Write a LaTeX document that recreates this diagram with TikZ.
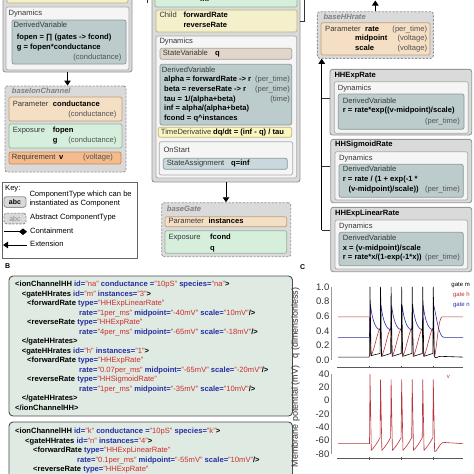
\documentclass[tikz,border=0pt]{standalone}
\usepackage{fontspec}
\setmainfont{Liberation Sans}
\usetikzlibrary{positioning,fit,arrows.meta}

\definecolor{compgray}{RGB}{218,218,218}
\definecolor{compedge}{RGB}{150,150,150}
\definecolor{dynfill}{RGB}{245,245,245}
\definecolor{dynedge}{RGB}{170,170,170}
\definecolor{dvfill}{RGB}{188,203,204}
\definecolor{dvedge}{RGB}{140,152,155}
\definecolor{parfill}{RGB}{244,222,196}
\definecolor{paredge}{RGB}{190,160,125}
\definecolor{expfill}{RGB}{214,238,220}
\definecolor{expedge}{RGB}{150,180,155}
\definecolor{reqfill}{RGB}{244,188,142}
\definecolor{reqedge}{RGB}{200,135,85}
\definecolor{chfill}{RGB}{244,240,204}
\definecolor{chedge}{RGB}{190,180,125}
\definecolor{tdfill}{RGB}{250,246,190}
\definecolor{svfill}{RGB}{224,214,204}
\definecolor{svedge}{RGB}{170,160,150}
\definecolor{safill}{RGB}{200,216,220}
\definecolor{xmlfill}{RGB}{222,234,226}
\definecolor{xmlblue}{RGB}{40,45,160}
\definecolor{xmlred}{RGB}{205,45,45}
\definecolor{hred}{RGB}{185,55,60}
\definecolor{nblue}{RGB}{45,45,170}

\newcommand{\xtag}[1]{\textbf{#1}}
\newcommand{\xatt}[1]{\textbf{\color{xmlblue}#1}}
\newcommand{\xval}[1]{{\color{xmlred}#1}}

\begin{document}
\begin{tikzpicture}[x=1pt,y=-1pt,
    comp/.style={draw=compedge, fill=compgray, rounded corners=2.5pt, line width=0.9pt, inner sep=0pt},
    abst/.style={comp, dash pattern=on 2.2pt off 1.4pt},
    dyn/.style={draw=dynedge, fill=dynfill, rounded corners=2pt, line width=0.7pt, inner sep=0pt},
    dvar/.style={draw=dvedge, fill=dvfill, rounded corners=2pt, line width=0.7pt, inner sep=0pt},
    param/.style={dvar, draw=paredge, fill=parfill},
    expo/.style={dvar, draw=expedge, fill=expfill},
    req/.style={dvar, draw=reqedge, fill=reqfill},
    chld/.style={dvar, draw=chedge, fill=chfill},
    tder/.style={dvar, draw=chedge, fill=tdfill},
    svar/.style={dvar, draw=svedge, fill=svfill},
    sasg/.style={dvar, fill=safill},
    xmlbox/.style={draw=black!70, fill=xmlfill, rounded corners=4pt, line width=0.9pt, inner sep=0pt},
    lbl/.style={anchor=west, inner sep=0pt, text height=5.4pt, text depth=1.6pt, font=\fontsize{7.6}{9}\selectfont, text=black!78},
    val/.style={lbl, font=\fontsize{7.6}{9}\selectfont\bfseries, text=black},
    unit/.style={lbl, anchor=east, text=black!68},
    ttl/.style={lbl, font=\fontsize{7.6}{9}\selectfont\bfseries\itshape, text=black!50},
    xml/.style={lbl, text=black},
    panel/.style={lbl, font=\fontsize{7}{8}\selectfont\bfseries, text=black},
    tick/.style={anchor=east, inner sep=0pt, font=\fontsize{9.5}{10}\selectfont, text=black!80},
    leg/.style={anchor=east, inner sep=0pt, font=\fontsize{6}{7}\selectfont},
    ext/.style={-{Triangle[width=6.5pt,length=5pt]}, line width=0.9pt},
    wire/.style={line width=0.9pt, black!80},
    axisline/.style={black!65, line width=0.6pt},
    trace/.style={line width=0.6pt, line join=round},
  ]
  \clip (0,0) rectangle (474,474);
  \fill[white] (0,0) rectangle (474,474);

  % ---------- A: ion channel (left column) ----------
  \node[comp, fit={(3,-10) (132,72)}] (ionch) {};
  \node[chld, fit={(7,-10) (128,3)}] (ionchtop) {};
  \node[dyn, fit={(6,7) (129,70)}] (ionchdyn) {};
  \node[lbl] (ionchdynlbl) at (8.5,14) {Dynamics};
  \node[dvar, fit={(12,20) (126,64)}] (ionchdv) {};
  \node[lbl] (ionchdvlbl) at (13.5,25.7) {DerivedVariable};
  \node[val] (fopen) at (16.7,37.3) {fopen = ∏ (gates -> fcond)};
  \node[val] (gdef) at (16.7,47.7) {g = fopen*conductance};
  \node[unit] (gunit) at (121.7,57.3) {(conductance)};

  % abstract base ion channel
  \node[abst, fit={(5,86) (126,172)}] (baseion) {};
  \node[ttl] (baseionlbl) at (11.7,91.7) {baseIonChannel};
  \node[param, fit={(9,97) (122,121)}] (baseionpar) {};
  \node[lbl] (condpar) at (12.7,104.3) {Parameter};
  \node[val] (condname) at (52.7,104.3) {conductance};
  \node[unit] (condunit) at (116.7,114.3) {(conductance)};
  \node[expo, fit={(9,124) (122,148)}] (baseionexp) {};
  \node[lbl] (expolbl) at (12.7,131) {Exposure};
  \node[val] (fopenexp) at (52.7,131) {fopen};
  \node[val] (gexp) at (52.7,141) {g};
  \node[unit] (gexpunit) at (116.7,141) {(conductance)};
  \node[req, fit={(9,152) (121,164)}] (baseionreq) {};
  \node[lbl] (reqlbl) at (11.7,157.7) {Requirement};
  \node[val] (vreq) at (59,157.7) {v};
  \node[unit] (vrequnit) at (113,157.7) {(voltage)};
  \draw[ext] (ionch.south) -- (ionch.south |- baseion.north);

  % key
  \node[draw=black!60, line width=0.7pt, fit={(2,182) (137,258)}, inner sep=0pt] (key) {};
  \node[lbl, text=black] (keylbl) at (5,189) {Key:};
  \node[comp, minimum width=22pt, minimum height=10.6pt, font=\fontsize{7}{8}\selectfont\bfseries] (keycomp) at (15,202) {abc};
  \node[lbl, text=black] (keycomp1) at (29.3,195) {ComponentType which can be};
  \node[lbl, text=black] (keycomp2) at (29.3,204) {instantiated as Component};
  \node[abst, minimum width=22pt, minimum height=10.6pt, font=\fontsize{7}{8}\selectfont, text=black!45] (keyabst) at (15,218.5) {abc};
  \node[lbl, text=black] (keyabstlbl) at (30,217.7) {Abstract ComponentType};
  \coordinate (conta) at (4,231.7);
  \coordinate (contb) at (27,231.7);
  \draw[line width=0.9pt, -{Diamond[width=6.5pt,length=8pt]}] (conta) -- (contb);
  \node[lbl, text=black] (contlbl) at (30,231.7) {Containment};
  \coordinate (exta) at (27,245);
  \coordinate (extb) at (3,245);
  \draw[ext] (exta) -- (extb);
  \node[lbl, text=black] (extlbl) at (30,245) {Extension};

  % ---------- A: gate (middle column) ----------
  \node[comp, fit={(152,-10) (300,182)}] (gate) {};
  \node[expo, fit={(155,-10) (297,7)}] (gatetop) {};
  \node[val] (gateinf) at (200,-0.5) {inf};
  \node[chld, fit={(156,10) (297,32)}] (gatechild) {};
  \node[lbl] (childlbl) at (159.3,15.7) {Child};
  \node[val] (fwd) at (183.3,15.7) {forwardRate};
  \node[val] (rev) at (183.3,25.7) {reverseRate};
  \node[dyn, fit={(156,36) (296.7,178)}] (gatedyn) {};
  \node[lbl] (gatedynlbl) at (159.3,41.7) {Dynamics};
  \node[svar, fit={(160,48.3) (291.7,59.3)}] (gatesv) {};
  \node[lbl] (svlbl) at (162.7,53.8) {StateVariable};
  \node[val] (svq) at (215,53.8) {q};
  \node[dvar, fit={(160,64.3) (291.7,125)}] (gatedv) {};
  \node[lbl] (gatedvlbl) at (161.7,70.7) {DerivedVariable};
  \node[val] (alpha) at (164,80) {alpha = forwardRate -> r};
  \node[unit] (alphaunit) at (290,80) {(per\_time)};
  \node[val] (beta) at (164,90) {beta = reverseRate -> r};
  \node[unit] (betaunit) at (290,90) {(per\_time)};
  \node[val] (tau) at (164,99.3) {tau = 1/(alpha+beta)};
  \node[unit] (tauunit) at (290,99.3) {(time)};
  \node[val] (inf) at (164,109) {inf = alpha/(alpha+beta)};
  \node[val] (fcond) at (164,118.3) {fcond = q\textasciicircum instances};
  \node[tder, fit={(158.3,127.3) (291.7,137.3)}] (gatetd) {};
  \node[lbl] (tdlbl) at (160.7,132.3) {TimeDerivative};
  \node[val] (tdeq) at (213,132.3) {dq/dt = (inf - q) / tau};
  \node[dyn, fit={(159.3,141.7) (292.7,175)}] (gateos) {};
  \node[lbl] (oslbl) at (163.3,151) {OnStart};
  \node[sasg, fit={(163.3,158.3) (287.3,169.3)}] (gatesa) {};
  \node[lbl] (salbl) at (166.7,163.8) {StateAssignment};
  \node[val] (saeq) at (231,163.8) {q=inf};

  % abstract base gate
  \node[abst, fit={(161.7,202.7) (290.7,256.7)}] (basegate) {};
  \node[ttl] (basegatelbl) at (166.7,209.3) {baseGate};
  \node[param, fit={(165,216.7) (286.7,226.7)}] (basegatepar) {};
  \node[lbl] (instpar) at (168.3,221.7) {Parameter};
  \node[val] (instname) at (208.3,221.7) {instances};
  \node[expo, fit={(165,230.7) (286.7,253.3)}] (basegateexp) {};
  \node[lbl] (gexplbl) at (168.3,237.3) {Exposure};
  \node[val] (fcondexp) at (210,237.3) {fcond};
  \node[val] (qexp) at (210,248.3) {q};
  \draw[ext] (gate.south) -- (gate.south |- basegate.north);

  % containment links leaving the frame
  \coordinate (ionlinka) at (147,-4);
  \coordinate (ionlinkb) at (147,3);
  \draw[wire] (ionlinka) -- (ionlinkb);
  \coordinate (childup) at (304,-4);
  \draw[wire] (gate.east |- gatechild.east) -| (childup);

  % ---------- A: rates (right column) ----------
  \node[abst, fit={(317.3,11.7) (433.3,58.3)}] (hhrate) {};
  \node[ttl] (hhratelbl) at (323.3,17.3) {baseHHrate};
  \node[param, fit={(321,22.7) (430,55)}] (hhratepar) {};
  \node[lbl] (ratepar) at (325,29.3) {Parameter};
  \node[val] (ratename) at (365,29.3) {rate};
  \node[unit] (rateunit) at (427.3,29.3) {(per\_time)};
  \node[val] (midname) at (355,39) {midpoint};
  \node[unit] (midunit) at (427.3,39) {(voltage)};
  \node[val] (scalename) at (355,48.3) {scale};
  \node[unit] (scaleunit) at (427.3,48.3) {(voltage)};
  \coordinate (hhrateup) at (375.3,0.5);
  \draw[ext] (hhrate.north) -- (hhrateup);

  \node[comp, fit={(330,69.3) (471.7,135)}] (hhexp) {};
  \node[val] (hhexplbl) at (334.3,76) {HHExpRate};
  \node[dyn, fit={(334.3,81.7) (468.3,133.3)}] (hhexpdyn) {};
  \node[lbl] (hhexpdynlbl) at (337.7,88.3) {Dynamics};
  \node[dvar, fit={(338.3,94) (464,129.3)}] (hhexpdv) {};
  \node[lbl] (hhexpdvlbl) at (342.7,101.7) {DerivedVariable};
  \node[val] (hhexpr) at (342.7,111) {r = rate*exp((v-midpoint)/scale)};
  \node[unit] (hhexpunit) at (460,121.7) {(per\_time)};

  \node[comp, fit={(330.7,139.3) (471.7,202.7)}] (hhsig) {};
  \node[val] (hhsiglbl) at (335,145) {HHSigmoidRate};
  \node[dyn, fit={(335,151.7) (467.7,200)}] (hhsigdyn) {};
  \node[lbl] (hhsigdynlbl) at (339,158.3) {Dynamics};
  \node[dvar, fit={(339,164.3) (463.3,197.3)}] (hhsigdv) {};
  \node[lbl] (hhsigdvlbl) at (342.7,170) {DerivedVariable};
  \node[val] (hhsigr1) at (342.7,180) {r = rate / (1 + exp(-1 *};
  \node[val] (hhsigr2) at (348.3,190) {(v-midpoint)/scale))};
  \node[unit] (hhsigunit) at (460,190) {(per\_time)};

  \node[comp, fit={(330.7,207.3) (471.7,271.7)}] (hhlin) {};
  \node[val] (hhlinlbl) at (335,213.3) {HHExpLinearRate};
  \node[dyn, fit={(335,220) (467.7,269)}] (hhlindyn) {};
  \node[lbl] (hhlindynlbl) at (339,226.7) {Dynamics};
  \node[dvar, fit={(339,232.3) (463.3,265.7)}] (hhlindv) {};
  \node[lbl] (hhlindvlbl) at (342.7,238.3) {DerivedVariable};
  \node[val] (hhlinx) at (342.7,248.3) {x = (v-midpoint)/scale};
  \node[val] (hhlinr) at (342.7,257.7) {r = rate*x/(1-exp(-1*x))};
  \node[unit] (hhlinunit) at (460,257.7) {(per\_time)};

  % extension tree up to baseHHrate
  \coordinate (trunk) at (321.7,230);
  \coordinate (brexp) at ([yshift=4pt]hhexp.west);
  \coordinate (brsig) at ([yshift=4.5pt]hhsig.west);
  \coordinate (brlin) at ([yshift=9.5pt]hhlin.west);
  \draw[ext] (trunk) -- (trunk |- hhrate.south);
  \draw[wire] (trunk |- brexp) -- (brexp);
  \draw[wire] (trunk |- brsig) -- (brsig);
  \draw[wire] (trunk |- brlin) -- (brlin);

  % ---------- B: XML ----------
  \node[panel] (labB) at (5,267) {B};
  \node[xmlbox, fit={(9,276) (292.5,416)}] (xmlna) {};
  \node[xml] (na1) at (15,285) {\xtag{<ionChannelHH} \xatt{id=}\xval{"na"} \xatt{conductance =}\xval{"10pS"} \xatt{species=}\xval{"na"}\xtag{>}};
  \node[xml] (na2) at (21.7,294.5) {\xtag{<gateHHrates} \xatt{id=}\xval{"m"} \xatt{instances=}\xval{"3"}\xtag{>}};
  \node[xml] (na3) at (27,304) {\xtag{<forwardRate} \xatt{type=}\xval{"HHExpLinearRate"}};
  \node[xml] (na4) at (79,313.5) {\xatt{rate=}\xval{"1per\_ms"} \xatt{midpoint=}\xval{"-40mV"} \xatt{scale=}\xval{"10mV"}\xtag{/>}};
  \node[xml] (na5) at (27,323) {\xtag{<reverseRate} \xatt{type=}\xval{"HHExpRate"}};
  \node[xml] (na6) at (79,332.5) {\xatt{rate=}\xval{"4per\_ms"} \xatt{midpoint=}\xval{"-65mV"} \xatt{scale=}\xval{"-18mV"}\xtag{/>}};
  \node[xml] (na7) at (21.7,342) {\xtag{</gateHHrates>}};
  \node[xml] (na8) at (21.7,351.5) {\xtag{<gateHHrates} \xatt{id=}\xval{"h"} \xatt{instances=}\xval{"1"}\xtag{>}};
  \node[xml] (na9) at (27,361) {\xtag{<forwardRate} \xatt{type=}\xval{"HHExpRate"}};
  \node[xml] (na10) at (79,370.5) {\xatt{rate=}\xval{"0.07per\_ms"} \xatt{midpoint=}\xval{"-65mV"} \xatt{scale=}\xval{"-20mV"}\xtag{/>}};
  \node[xml] (na11) at (27,380) {\xtag{<reverseRate} \xatt{type=}\xval{"HHSigmoidRate"}};
  \node[xml] (na12) at (79,389.5) {\xatt{rate=}\xval{"1per\_ms"} \xatt{midpoint=}\xval{"-35mV"} \xatt{scale=}\xval{"10mV"}\xtag{/>}};
  \node[xml] (na13) at (21.7,399) {\xtag{</gateHHrates>}};
  \node[xml] (na14) at (15,408.5) {\xtag{</ionChannelHH>}};

  \node[xmlbox, fit={(9,422) (292.5,490)}] (xmlk) {};
  \node[xml] (k1) at (15,432) {\xtag{<ionChannelHH} \xatt{id=}\xval{"k"} \xatt{conductance =}\xval{"10pS"} \xatt{species=}\xval{"k"}\xtag{>}};
  \node[xml] (k2) at (25,441.5) {\xtag{<gateHHrates} \xatt{id=}\xval{"n"} \xatt{instances=}\xval{"4"}\xtag{>}};
  \node[xml] (k3) at (33,451) {\xtag{<forwardRate} \xatt{type=}\xval{"HHExpLinearRate"}};
  \node[xml] (k4) at (77,460.5) {\xatt{rate=}\xval{"0.1per\_ms"} \xatt{midpoint=}\xval{"-55mV"} \xatt{scale=}\xval{"10mV"}\xtag{/>}};
  \node[xml] (k5) at (33,470) {\xtag{<reverseRate} \xatt{type=}\xval{"HHExpRate"}};

  % ---------- C: simulation traces ----------
  \node[panel] (labC) at (300,268) {C};
  \node[rotate=90, inner sep=0pt, font=\fontsize{9}{10}\selectfont, text=black!80] (qaxis) at (295.5,323) {q (dimensionless)};
  \node[rotate=90, inner sep=0pt, font=\fontsize{9}{10}\selectfont, text=black!80] (vaxis) at (295.5,416.7) {Membrane potential (mV)};

  \foreach \lab [count=\i] in {0.0,0.2,0.4,0.6,0.8,1.0}
    \node[tick] (qtick\i) at ({329.5},{360-14.6*(\i-1)}) {\lab};
  \foreach \lab [count=\i] in {40,20,0,-20,-40,-60,-80}
    \node[tick] (vtick\i) at ({329.5},{374+13.33*(\i-1)}) {\lab};

  % axes
  \draw[axisline, black!40, line width=0.4pt] (331.5,287) -- (331.5,360);
  \draw[axisline, black!40, line width=0.4pt] (331.5,374) -- (331.5,454);
  \draw[axisline] (337,367) -- (463,367);
  \draw[axisline] (337,458.5) -- (463,458.5);
  \foreach \x in {369,401,433} {
    \draw[axisline] (\x,365.5) -- (\x,368);
    \draw[axisline] (\x,457) -- (\x,459.5);
  }

  \begin{scope}[shift={(0,360)}, y={(0pt,73pt)}]
    % gate h
    \draw[trace, hred] (338,0.59) -- (369.3,0.59) .. controls (370,0.5) and (370.5,0.1) .. (371.5,0.07)
      foreach \t in {380.55,391.1,401.65,412.2,422.75,433.3} {
        .. controls (\t-6,0.15) and (\t-3,0.4) .. (\t-0.2,0.44)
        .. controls (\t+0.3,0.35) and (\t+0.6,0.1) .. (\t+1.5,0.06) }
      .. controls (437,0.2) and (438.5,0.58) .. (442,0.59) -- (463,0.59);
    % gate n
    \draw[trace, nblue] (338,0.31) -- (369.4,0.31) -- (370.5,0.76)
      foreach \t in {380.55,391.1,401.65,412.2,422.75,433.3} {
        .. controls (\t-8,0.5) and (\t-4,0.42) .. (\t-0.3,0.41) -- (\t+0.5,0.75) }
      .. controls (437,0.55) and (439,0.31) .. (444,0.31) -- (463,0.31);
    % gate m
    \draw[trace, black] (338,0.04) -- (369,0.04) -- (369.7,0.08) -- (370,1.0) -- (371,0.06)
      foreach \t in {380.55,391.1,401.65,412.2,422.75,433.3} {
        -- (\t-0.4,0.09) -- (\t,1.0) -- (\t+1,0.05) }
      .. controls (436,0.0) and (438,0.06) .. (441,0.05) -- (463,0.04);
  \end{scope}

  \begin{scope}[shift={(0,401)}, y={(0pt,0.667pt)}]
    % membrane potential
    \draw[trace, hred] (338,-64) -- (369.5,-64) -- (370,40) -- (371.3,-74)
      foreach \t in {380.55,391.1,401.65,412.2,422.75} {
        .. controls (\t-6,-69) and (\t-3,-62) .. (\t-0.5,-55) -- (\t,32) -- (\t+1.3,-74) }
      .. controls (427.3,-69) and (430.3,-62) .. (432.8,-55) -- (433.3,32) -- (434.6,-76)
      .. controls (437,-76) and (439,-65) .. (443,-62) -- (463,-64);
  \end{scope}

  \node[leg, text=black] (legm) at (470,285) {gate m};
  \node[leg, text=hred] (legh) at (470,295) {gate h};
  \node[leg, text=nblue] (legn) at (470,305) {gate n};
  \node[leg, text=hred] (legv) at (450,377.3) {v};
\end{tikzpicture}
\end{document}
